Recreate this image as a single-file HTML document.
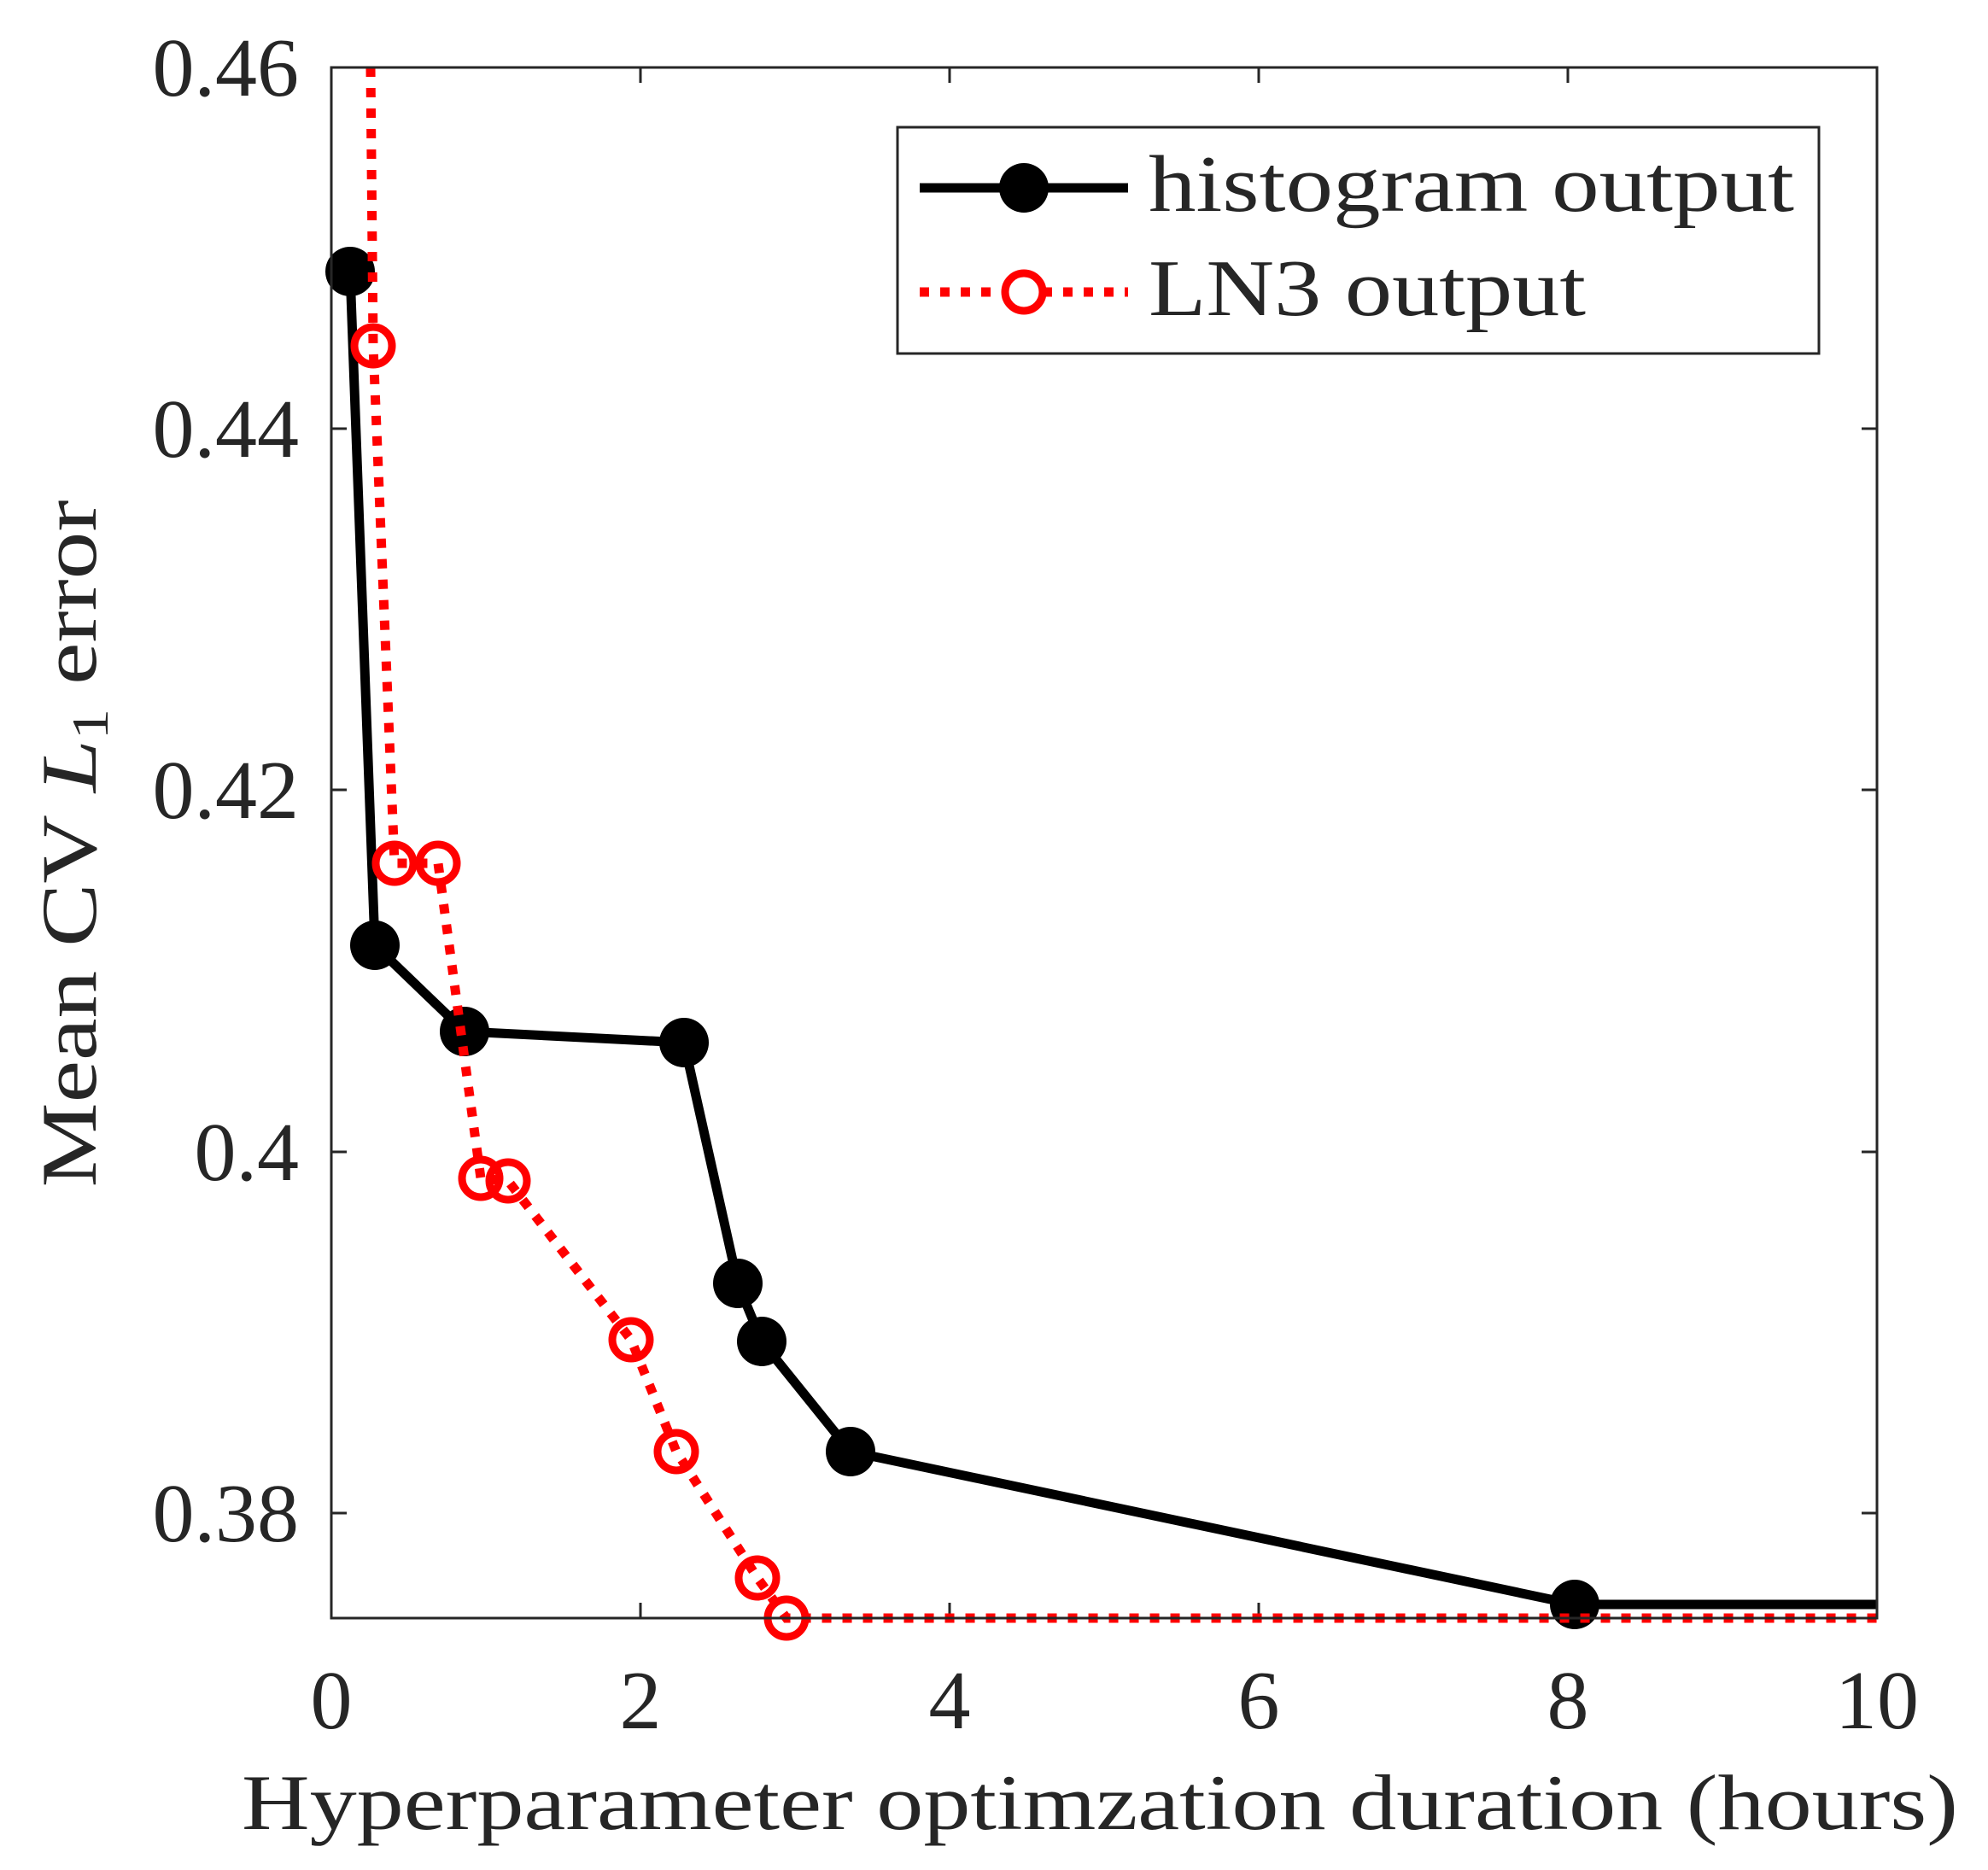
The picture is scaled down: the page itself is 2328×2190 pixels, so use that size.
<!DOCTYPE html>
<html><head><meta charset="utf-8"><style>html,body{margin:0;padding:0;background:#fff}svg{display:block}</style></head>
<body>
<svg width="2328" height="2190" viewBox="0 0 2328 2190" xmlns="http://www.w3.org/2000/svg" font-family="'Liberation Serif', serif" fill="#262626">
<rect width="2328" height="2190" fill="#fff"/>
<g stroke="#262626" stroke-width="3">
<path d="M388 79H406M388 502H406M388 925H406M388 1349H406M388 1772H406"/>
<path d="M2198 79H2180M2198 502H2180M2198 925H2180M2198 1349H2180M2198 1772H2180"/>
<path d="M750 1895V1877M1112 1895V1877M1474 1895V1877M1836 1895V1877"/>
<path d="M750 79V97M1112 79V97M1474 79V97M1836 79V97"/>
</g>
<polyline fill="none" stroke="#000" stroke-width="11" stroke-linejoin="round" points="410,318 439,1107 544,1208 801,1221 864,1503 892,1571 996,1700 1844,1879 2198,1879"/>
<g fill="#000">
<circle cx="410" cy="318" r="29"/><circle cx="439" cy="1107" r="29"/><circle cx="544" cy="1208" r="29"/><circle cx="801" cy="1221" r="29"/><circle cx="864" cy="1503" r="29"/><circle cx="892" cy="1571" r="29"/><circle cx="996" cy="1700" r="29"/><circle cx="1844" cy="1879" r="29"/>
</g>
<polyline fill="none" stroke="#ff0000" stroke-width="11" stroke-dasharray="11 13" points="434,79 437,405 462,1011 513,1011 563,1380 595,1383 739,1569 792,1700 887,1848 921,1895 2198,1895"/>
<g fill="none" stroke="#ff0000" stroke-width="9">
<circle cx="437" cy="405" r="22"/><circle cx="462" cy="1011" r="22"/><circle cx="513" cy="1011" r="22"/><circle cx="563" cy="1380" r="22"/><circle cx="595" cy="1383" r="22"/><circle cx="739" cy="1569" r="22"/><circle cx="792" cy="1700" r="22"/><circle cx="887" cy="1848" r="22"/><circle cx="921" cy="1895" r="22"/>
</g>
<rect x="388" y="79" width="1810" height="1816" fill="none" stroke="#262626" stroke-width="3"/>
<g font-size="98" text-anchor="end">
<text x="350" y="112">0.46</text>
<text x="350" y="535">0.44</text>
<text x="350" y="958">0.42</text>
<text x="350" y="1382">0.4</text>
<text x="350" y="1805">0.38</text>
</g>
<g font-size="98" text-anchor="middle">
<text x="388" y="2024">0</text>
<text x="750" y="2024">2</text>
<text x="1112" y="2024">4</text>
<text x="1474" y="2024">6</text>
<text x="1836" y="2024">8</text>
<text x="2198" y="2024">10</text>
</g>
<text x="1288" y="2142" font-size="92" text-anchor="middle" textLength="2010" lengthAdjust="spacingAndGlyphs">Hyperparameter optimzation duration (hours)</text>
<text transform="translate(112,988) rotate(-90)" font-size="92" text-anchor="middle" textLength="805" lengthAdjust="spacingAndGlyphs">Mean CV <tspan font-style="italic">L</tspan><tspan font-size="60" dy="14">1</tspan><tspan dy="-14"> error</tspan></text>
<rect x="1051" y="149" width="1079" height="265" fill="#fff" stroke="#262626" stroke-width="3"/>
<line x1="1077" y1="220" x2="1321" y2="220" stroke="#000" stroke-width="11"/>
<circle cx="1199" cy="220" r="29" fill="#000"/>
<line x1="1077" y1="342" x2="1321" y2="342" stroke="#ff0000" stroke-width="11" stroke-dasharray="11 13"/>
<circle cx="1199" cy="342" r="22" fill="#fff" stroke="#ff0000" stroke-width="9"/>
<text x="1345" y="247" font-size="94" textLength="756" lengthAdjust="spacingAndGlyphs">histogram output</text>
<text x="1345" y="369" font-size="94" textLength="512" lengthAdjust="spacingAndGlyphs">LN3 output</text>
</svg>
</body></html>
